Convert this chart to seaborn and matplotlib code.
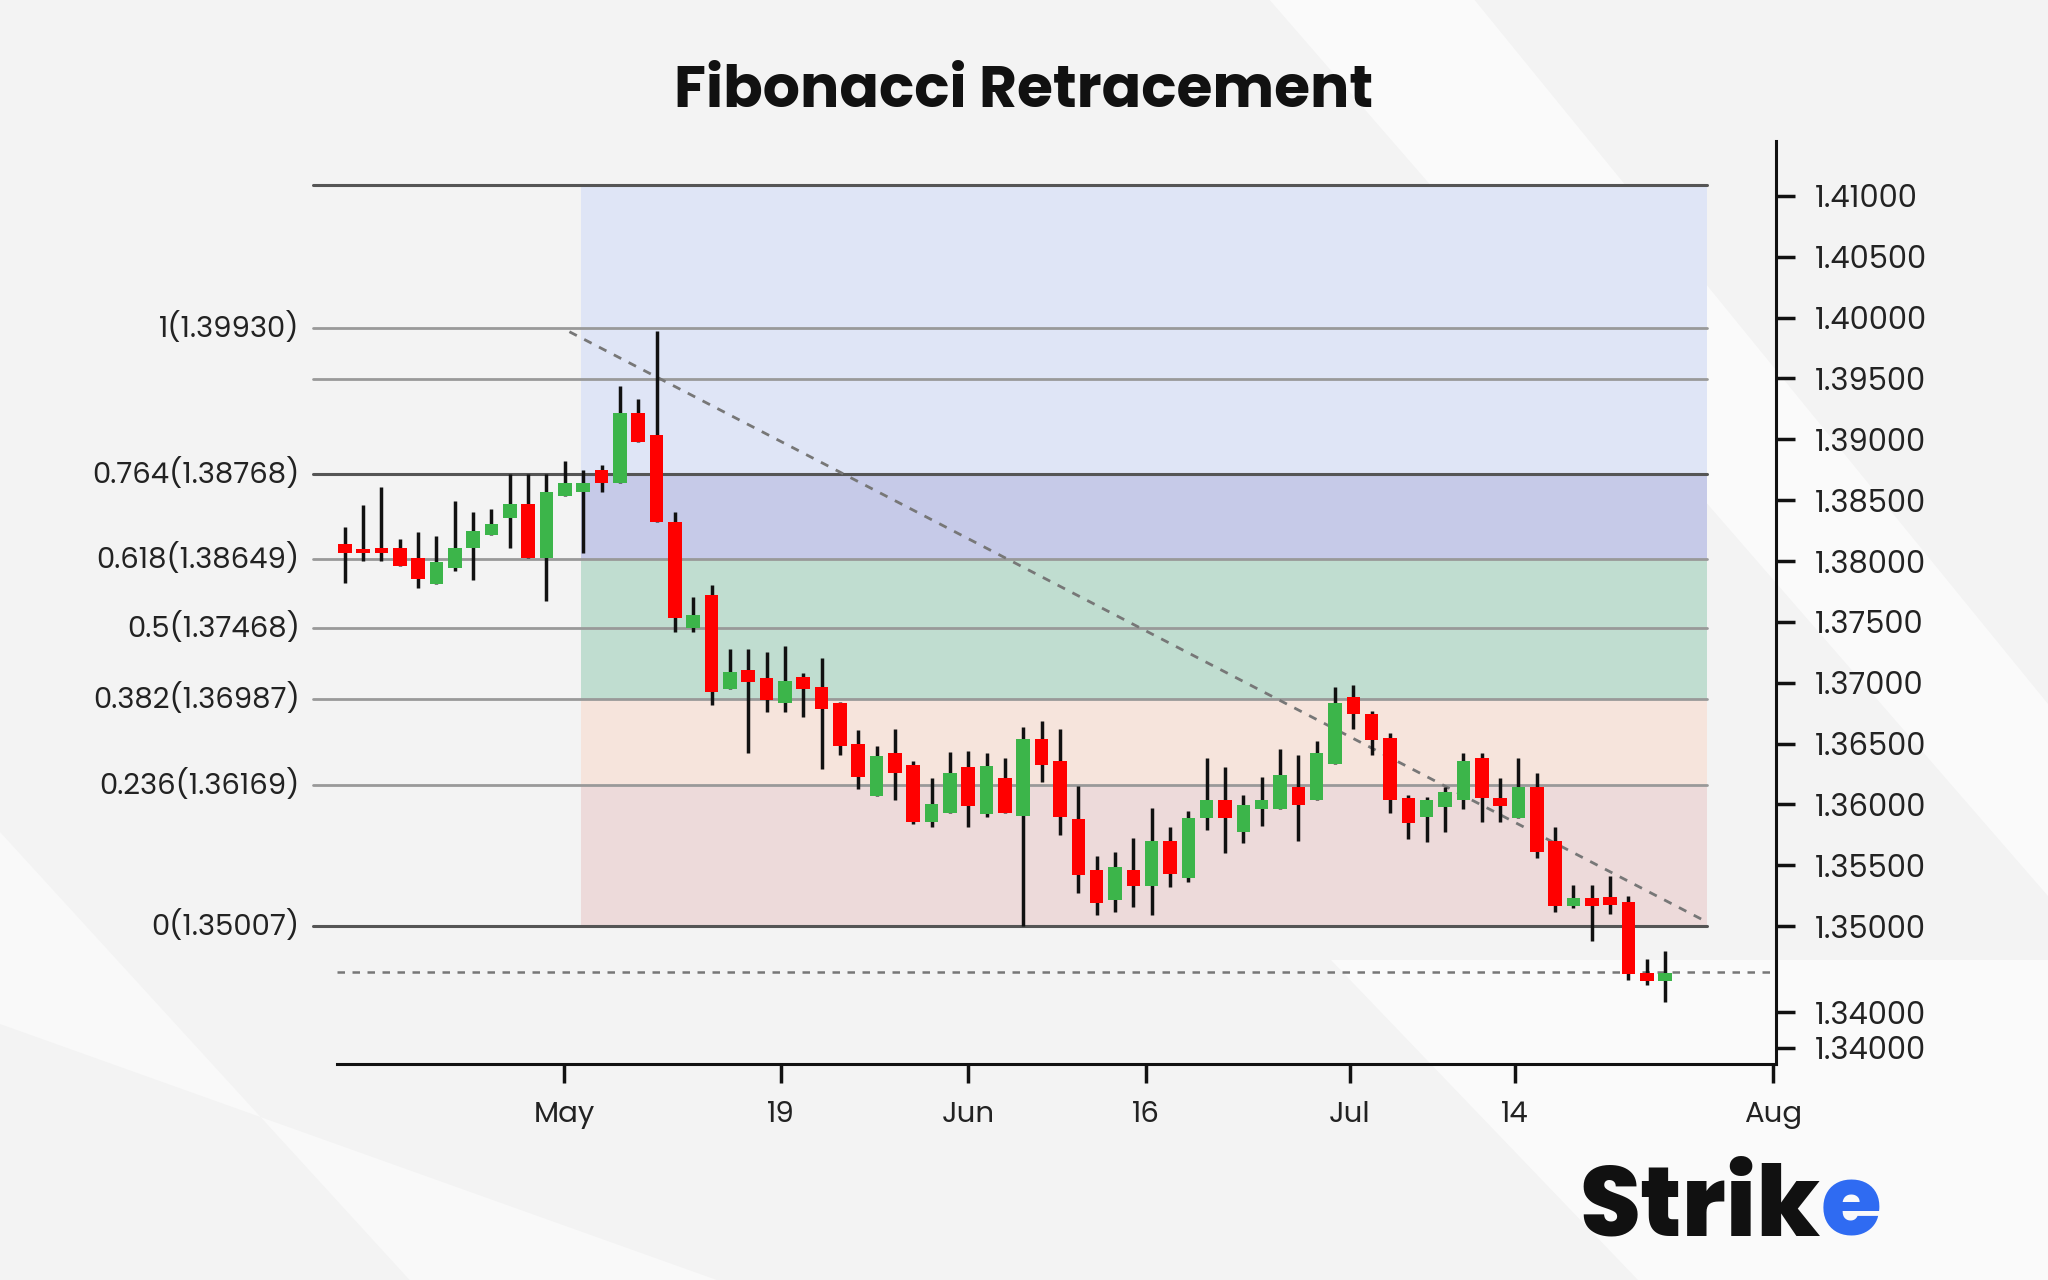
import numpy as np
import pandas as pd
import matplotlib
matplotlib.use("Agg")
import matplotlib.pyplot as plt
import seaborn as sns

opens = [1.38140,1.38102,1.38104,1.38104,1.38028,1.37811,1.37945,1.38104,1.38211,1.38351,
         1.38469,1.38028,1.38537,1.38570,1.38748,1.38644,1.39219,1.39036,1.38324,1.37447,
         1.37721,1.36946,1.37104,1.37036,1.36836,1.37044,1.36962,1.36836,1.36496,1.36072,
         1.36420,1.36324,1.35858,1.35932,1.36310,1.35918,1.36220,1.35908,1.36535,1.36357,
         1.35877,1.35461,1.35214,1.35461,1.35329,1.35702,1.35398,1.35891,1.36036,1.35776,
         1.35959,1.35962,1.36140,1.36036,1.36332,1.36885,1.36740,1.36543,1.36050,1.35894,
         1.35976,1.36036,1.36379,1.36055,1.35890,1.36146,1.35702,1.35165,1.35228,1.35236,
         1.35201,1.34617,1.34551]
closes = [1.38069,1.38063,1.38069,1.37959,1.37850,1.37989,1.38104,1.38250,1.38304,1.38469,
          1.38028,1.38570,1.38644,1.38644,1.38644,1.39219,1.38981,1.38324,1.37529,1.37557,
          1.36926,1.37091,1.37009,1.36858,1.37017,1.36946,1.36781,1.36480,1.36222,1.36398,
          1.36260,1.35858,1.36001,1.36255,1.35987,1.36318,1.35927,1.36535,1.36324,1.35900,
          1.35420,1.35187,1.35488,1.35329,1.35702,1.35428,1.35891,1.36036,1.35891,1.35995,
          1.36036,1.36242,1.35995,1.36425,1.36836,1.36743,1.36529,1.36036,1.35844,1.36036,
          1.36105,1.36357,1.36055,1.35987,1.36146,1.35606,1.35165,1.35228,1.35165,1.35173,
          1.34606,1.34551,1.34617]
highs = [1.38282,1.38460,1.38611,1.38178,1.38241,1.38206,1.38496,1.38406,1.38425,1.38715,
         1.38715,1.38715,1.38825,1.38748,1.38789,1.39440,1.39330,1.39893,1.38400,1.37702,
         1.37803,1.37274,1.37274,1.37255,1.37302,1.37083,1.37200,1.36840,1.36612,1.36480,
         1.36617,1.36357,1.36214,1.36428,1.36440,1.36420,1.36379,1.36639,1.36688,1.36620,
         1.36151,1.35576,1.35606,1.35721,1.35968,1.35817,1.35946,1.36379,1.36310,1.36077,
         1.36222,1.36453,1.36406,1.36524,1.36968,1.36981,1.36768,1.36584,1.36077,1.36058,
         1.36140,1.36425,1.36420,1.36220,1.36379,1.36255,1.35817,1.35338,1.35338,1.35412,
         1.35247,1.34727,1.34798]
lows = [1.37822,1.38003,1.38003,1.37959,1.37776,1.37811,1.37920,1.37844,1.38211,1.38104,
        1.38028,1.37674,1.38537,1.38069,1.38570,1.38644,1.38981,1.38324,1.37420,1.37420,
        1.36817,1.36946,1.36420,1.36762,1.36762,1.36721,1.36288,1.36410,1.36124,1.36072,
        1.36036,1.35840,1.35812,1.35932,1.35812,1.35900,1.35927,1.35001,1.36181,1.35749,
        1.35269,1.35091,1.35118,1.35154,1.35091,1.35324,1.35365,1.35790,1.35603,1.35680,
        1.35822,1.35962,1.35702,1.36036,1.36332,1.36617,1.36406,1.35932,1.35713,1.35694,
        1.35776,1.35959,1.35858,1.35858,1.35890,1.35557,1.35118,1.35150,1.34880,1.35097,
        1.34557,1.34516,1.34379]

fib_labels = ["1(1.39930)", "0.764(1.38768)", "0.618(1.38649)", "0.5(1.37468)",
              "0.382(1.36987)", "0.236(1.36169)", "0(1.35007)"]
fib_label_prices = [1.39916, 1.38714, 1.38016, 1.37447, 1.36868, 1.36159, 1.35000]
grid_prices = [1.41086, 1.39916, 1.39497, 1.38714, 1.38016, 1.37447, 1.36868, 1.36159, 1.35000]
band_edges = [1.41086, 1.38714, 1.38016, 1.36868, 1.36159, 1.35000]
band_colors = ["#dfe5f6", "#c6cae8", "#c0ddd0", "#f6e4dc", "#eddada"]

ytick_vals = [1.41, 1.405, 1.40, 1.395, 1.39, 1.385, 1.38, 1.375, 1.37, 1.365, 1.36,
              1.355, 1.35, 1.34292, 1.34002]
ytick_labels = ["1.41000", "1.40500", "1.40000", "1.39500", "1.39000", "1.38500", "1.38000",
                "1.37500", "1.37000", "1.36500", "1.36000", "1.35500", "1.35000", "1.34000", "1.34000"]
xtick_pos = [11.97, 23.8, 34.0, 43.7, 54.8, 63.8, 77.9]
xtick_labels = ["May", "19", "Jun", "16", "Jul", "14", "Aug"]

trend_x = [12.25, 74.3]
trend_y = [1.39884, 1.35032]
support_price = 1.34625

df = pd.DataFrame({"open": opens, "close": closes, "high": highs, "low": lows})
df["idx"] = np.arange(len(df))
df["up"] = df["close"] >= df["open"]

sns.set_theme(style="white")
plt.rcParams["font.family"] = ["Poppins", "Lato", "DejaVu Sans"]

fig = plt.figure(figsize=(20.48, 12.8), dpi=100)
fig.patch.set_facecolor("#f3f3f3")
bg = fig.add_axes([0, 0, 1, 1], zorder=-10)
bg.set_xlim(0, 1); bg.set_ylim(0, 1); bg.axis("off")
bg.fill([0.62, 0.72, 1.0, 1.0], [1.0, 1.0, 0.45, 0.3], color="white", alpha=0.6, lw=0)
bg.fill([0.0, 0.0, 0.35, 0.2], [0.35, 0.2, 0.0, 0.0], color="white", alpha=0.5, lw=0)
bg.fill([0.65, 1.0, 1.0, 0.8], [0.25, 0.25, 0.0, 0.0], color="white", alpha=0.6, lw=0)

ax = fig.add_axes([0.1645, 0.1684, 0.7028, 0.7214])
ax.patch.set_alpha(0)
xmin, xmax = -0.43, 78.06
ax.set_xlim(xmin, xmax)
ax.set_ylim(1.33863, 1.41451)

fx0, fx1 = 12.9, 74.3
for i, c in enumerate(band_colors):
    ax.fill_between([fx0, fx1], band_edges[i + 1], band_edges[i], color=c, lw=0, zorder=0)
for p in grid_prices:
    dark = p in (1.41086, 1.38714, 1.35000)
    ax.plot([-1.71, fx1], [p, p], color="#555555" if dark else "#999999",
            lw=2.2 if dark else 2.0, clip_on=False, zorder=1)
for lab, p in zip(fib_labels, fib_label_prices):
    ax.text(-2.45, p, lab, ha="right", va="center", fontsize=21, color="#222222", clip_on=False)

ax.plot(trend_x, trend_y, color="#777777", lw=2, ls=(0, (3, 3)), zorder=2)
ax.plot([xmin, xmax], [support_price] * 2, color="#777777", lw=1.8, ls=(0, (3, 3)), zorder=2)

red, green = "#ff0000", "#3cb54a"
ax.vlines(df["idx"], df["low"], df["high"], color="#111111", lw=2.5, zorder=3)
bot = np.minimum(df["open"], df["close"])
height = np.maximum(np.abs(df["close"] - df["open"]), 0.00018)
ax.bar(df["idx"], height, bottom=bot, width=0.74,
       color=[green if u else red for u in df["up"]], zorder=4, lw=0)

for s in ["left", "top"]:
    ax.spines[s].set_visible(False)
ax.spines["bottom"].set_color("#111111"); ax.spines["bottom"].set_linewidth(2.2)
ax.spines["right"].set_color("#111111"); ax.spines["right"].set_linewidth(2.2)
ax.yaxis.tick_right()
ax.set_yticks(ytick_vals)
ax.set_yticklabels(ytick_labels)
ax.set_xticks(xtick_pos)
ax.set_xticklabels(xtick_labels)
ax.tick_params(axis="y", direction="out", length=14, width=2.5, color="#111111",
               labelsize=22, pad=14, labelcolor="#222222", right=True)
ax.tick_params(axis="x", direction="out", length=14, width=2.5, color="#111111",
               labelsize=21, pad=12, labelcolor="#222222", bottom=True)
ax.grid(False)

fig.text(0.5, 0.927, "Fibonacci Retracement", ha="center", va="center",
         fontsize=42, fontweight="bold", color="#111111")
fig.text(0.889, 0.035, "Strik", ha="right", va="baseline", fontsize=71,
         fontweight="heavy", color="#111111")
fig.text(0.889, 0.035, "e", ha="left", va="baseline", fontsize=71,
         fontweight="heavy", color="#2f6bf2")

fig.savefig("out.png", dpi=100, facecolor=fig.get_facecolor())
